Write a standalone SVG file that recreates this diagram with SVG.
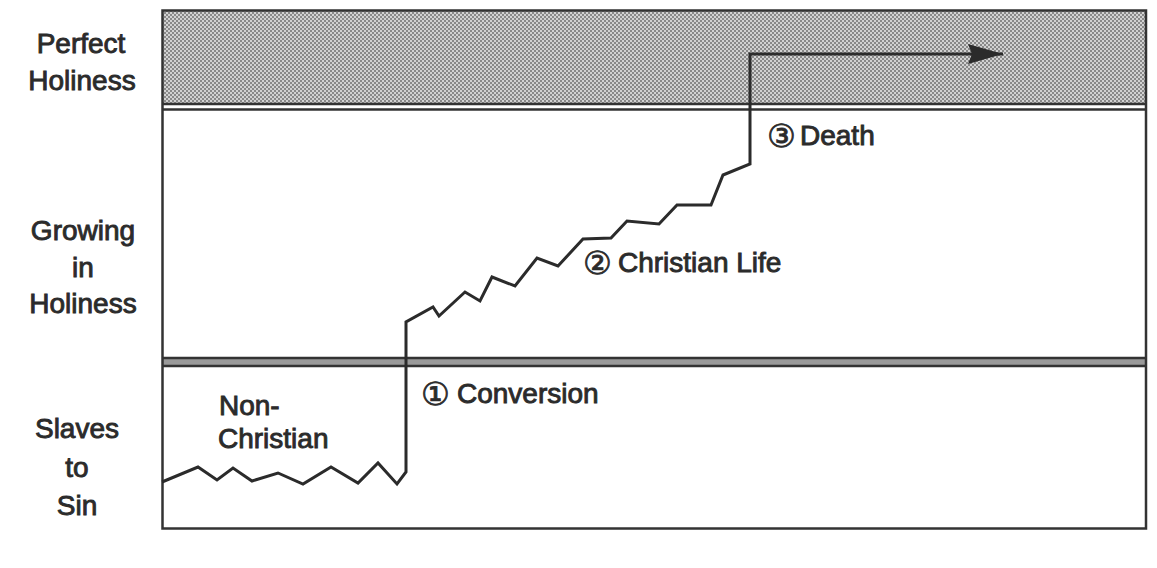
<svg xmlns="http://www.w3.org/2000/svg" width="1157" height="568" viewBox="0 0 1157 568">
  <style>
    .lbl { font-family: "Liberation Sans", Arial, "DejaVu Sans", sans-serif; font-size: 28px; fill: #2b2b2b; stroke: #2b2b2b; stroke-width: 0.9; }
    .side { text-anchor: middle; }
    .num { font-family: "DejaVu Sans", "Noto Sans", "Noto Sans CJK SC", sans-serif; font-size: 32px; fill: #2b2b2b; stroke: #2b2b2b; stroke-width: 0.8; }
    .frame { fill: none; stroke: #333; stroke-width: 2.5; }
    .rule { stroke: #333; stroke-width: 2.5; fill: none; }
    .track { fill: none; stroke: #2b2b2b; stroke-width: 3; stroke-linejoin: miter; }
  </style>
  <defs>
    <pattern id="stipple" width="4" height="4" patternUnits="userSpaceOnUse">
      <rect width="4" height="4" fill="#d2d2d2"/>
      <rect x="0.2" y="0.2" width="1.6" height="1.6" fill="#606060"/>
      <rect x="2.2" y="2.2" width="1.6" height="1.6" fill="#606060"/>
    </pattern>
    <marker id="head" markerWidth="36" markerHeight="22" refX="35" refY="11" orient="auto" markerUnits="userSpaceOnUse">
      <path d="M35,11 L0,1 L4,11 L0,21 Z" fill="#2b2b2b"/>
    </marker>
  </defs>

  <rect width="1157" height="568" fill="#ffffff"/>

  <g id="frame">
    <rect x="162.5" y="10.5" width="983.5" height="93.5" fill="url(#stipple)"/>
    <line class="rule" x1="162.5" y1="104" x2="1146" y2="104" stroke-width="3.5"/>
    <line class="rule" x1="162.5" y1="109.5" x2="1146" y2="109.5" stroke-width="2"/>
    <rect x="162.5" y="357.5" width="983.5" height="9" fill="#9a9a9a"/>
    <line class="rule" x1="162.5" y1="358" x2="1146" y2="358" stroke-width="2.8"/>
    <line class="rule" x1="162.5" y1="366" x2="1146" y2="366" stroke-width="2.8"/>
    <rect class="frame" x="162.5" y="10.5" width="983.5" height="518"/>
  </g>

  <g id="label-perfect-holiness">
    <text class="lbl side" x="81" y="53">Perfect</text>
    <text class="lbl side" x="82" y="90">Holiness</text>
  </g>
  <g id="label-growing">
    <text class="lbl side" x="83" y="240">Growing</text>
    <text class="lbl side" x="83" y="277">in</text>
    <text class="lbl side" x="83" y="313">Holiness</text>
  </g>
  <g id="label-slaves">
    <text class="lbl side" x="77" y="438">Slaves</text>
    <text class="lbl side" x="77" y="477">to</text>
    <text class="lbl side" x="77" y="515">Sin</text>
  </g>

  <g id="connectors">
    <path class="track" marker-end="url(#head)" d="M162,482 L198,467 L217,480 L233,468 L252,481 L278,473 L303,484 L331,467 L358,483 L378,463 L397,484 L406,472 L406,322 L433,307 L439,316 L465,292 L480,301 L492,277 L515,286 L537,258 L558,266 L583,239 L611,238 L627,221 L659,224 L677,205 L711,205 L723,175 L750,164 L750,54 L1003,54"/>
  </g>

  <g id="node-non-christian">
    <text class="lbl" x="219" y="415">Non-</text>
    <text class="lbl" x="218" y="448">Christian</text>
  </g>
  <g id="node-conversion">
    <text class="num" x="421" y="405">①</text>
    <text class="lbl" x="457" y="403">Conversion</text>
  </g>
  <g id="node-christian-life">
    <text class="num" x="583" y="274">②</text>
    <text class="lbl" x="618" y="272">Christian Life</text>
  </g>
  <g id="node-death">
    <text class="num" x="767" y="147">③</text>
    <text class="lbl" x="800" y="145">Death</text>
  </g>
</svg>
